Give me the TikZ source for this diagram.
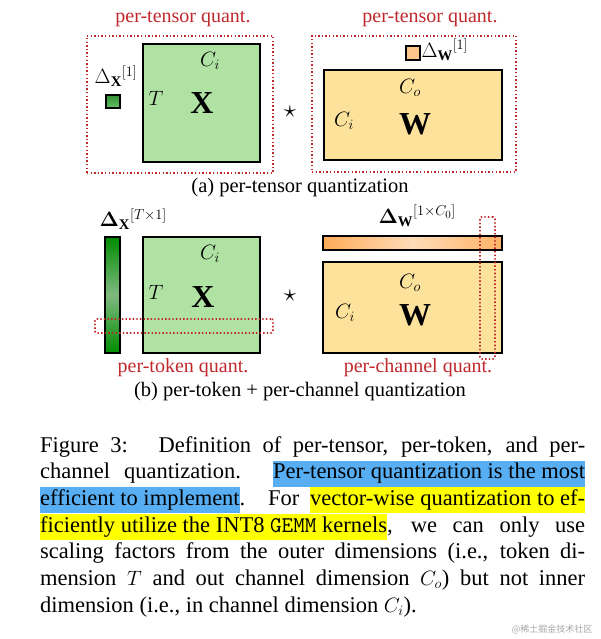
\documentclass[tikz,border=0pt]{standalone}
\usepackage{fontspec}
\setmainfont{Liberation Serif}
\newfontfamily\cjk{Noto Sans CJK SC}
\usepackage{amsmath}
\begin{document}
\definecolor{qred}{HTML}{C0282C}
\definecolor{xgreen}{HTML}{B0E2A4}
\definecolor{wyel}{HTML}{FDE29C}
\definecolor{hblue}{HTML}{58AEF2}
\definecolor{hyel}{HTML}{FFFF00}
\begin{tikzpicture}[x=1pt,y=-1pt,
  mat/.style={draw=black,line width=1.6pt,anchor=north west,inner sep=0pt,outer sep=0pt},
  qbox/.style={draw=qred,line width=1.8pt,dash pattern=on 1.4pt off 2.2pt,anchor=north west,inner sep=0pt},
  lab/.style={font=\fontsize{21}{23}\selectfont},
  qlab/.style={font=\fontsize{20}{22}\selectfont,text=qred},
  big/.style={font=\fontsize{32}{34}\selectfont\bfseries},
  subcap/.style={font=\fontsize{20.5}{22}\selectfont},
  txtline/.style={anchor=west,inner sep=0pt,font=\fontsize{22.5}{26}\selectfont}]
\useasboundingbox (0,0) rectangle (600,639);
\setlength{\fboxsep}{0pt}
% ---- (a)
\node[qbox,minimum width=186,minimum height=137] (qa1) at (86,35) {};
\node[qlab] (qla1) at (183,19) {per-tensor quant.};
\node[mat,fill=xgreen,minimum width=117,minimum height=118] (Xa) at (143,44) {};
\node[lab] (cia) at (210,61) {$C_i$};
\node[lab] (ta) at (156,98) {$T$};
\node[big] (xa) at (202,103) {X};
\node[mat,line width=1.3pt,top color=green!45!black!80,bottom color=green!60!black!60,minimum width=14,minimum height=13] (dxa) at (106,95) {};
\node[lab] (dxla) at (116,76) {$\Delta_{\mathbf{X}}{}^{[1]}$};
\node[font=\fontsize{30}{30}\selectfont] (sa) at (290,112) {$\star$};
\node[qbox,minimum width=204,minimum height=136] (qa2) at (311,35) {};
\node[qlab] (qla2) at (430,19) {per-tensor quant.};
\node[mat,fill=wyel,minimum width=178,minimum height=90] (Wa) at (324,70) {};
\node[lab] (coa) at (410,88) {$C_o$};
\node[lab] (cia2) at (344,121) {$C_i$};
\node[big] (wa) at (415,124) {W};
\node[mat,line width=1.3pt,fill=orange!45,minimum width=14,minimum height=14] (dwa) at (406,46) {};
\node[lab,anchor=west] (dwla) at (418,50) {$\Delta_{\mathbf{W}}{}^{[1]}$};
\node[subcap] (capa) at (300,188) {(a) per-tensor quantization};
% ---- (b)
\node[mat,line width=1.3pt,top color=green!55!black,bottom color=green!55!black,middle color=green!45!black!50,minimum width=15,minimum height=116] (dxb) at (105,237) {};
\node[lab,anchor=west] (dxlb) at (96,219) {$\boldsymbol{\Delta}_{\mathbf{X}}{}^{[T\times1]}$};
\node[mat,fill=xgreen,minimum width=117,minimum height=116] (Xb) at (143,237) {};
\node[lab] (cib) at (210,254) {$C_i$};
\node[lab] (tb) at (156,292) {$T$};
\node[big] (xb) at (203,297) {X};
\node[qbox,rounded corners=2pt,minimum width=178,minimum height=14] (qrow) at (94,318) {};
\node[font=\fontsize{30}{30}\selectfont] (sb) at (290,296) {$\star$};
\node[mat,line width=1.3pt,left color=orange!65,right color=orange!60,middle color=orange!28,minimum width=179,minimum height=14] (dwb) at (323,236) {};
\node[lab,anchor=west] (dwlb) at (375,216) {$\boldsymbol{\Delta}_{\mathbf{W}}{}^{[1\times C_0]}$};
\node[mat,fill=wyel,minimum width=179,minimum height=91] (Wb) at (323,262) {};
\node[lab] (cob) at (410,283) {$C_o$};
\node[lab] (cib2) at (345,313) {$C_i$};
\node[big] (wb) at (415,315) {W};
\node[qbox,rounded corners=2pt,minimum width=15,minimum height=142] (qcol) at (479,216) {};
\node[qlab] (qlb1) at (183,368) {per-token quant.};
\node[qlab] (qlb2) at (418,368) {per-channel quant.};
\node[subcap] (capb) at (300,392) {(b) per-token + per-channel quantization};
% ---- caption text
\node[txtline] (l1) at (40,447) {\makebox[545pt][s]{Figure 3: \ Definition of per-tensor, per-token, and per-}};
\node[txtline] (l2) at (40,473.6) {\makebox[545pt][s]{channel quantization. \colorbox{hblue}{\strut Per-tensor quantization is the most}}};
\node[txtline] (l3) at (40,500.2) {\makebox[545pt][s]{\colorbox{hblue}{\strut efficient to implement}. For \colorbox{hyel}{\strut vector-wise quantization to ef-}}};
\node[txtline] (l4) at (40,526.8) {\makebox[545pt][s]{\colorbox{hyel}{\strut ficiently utilize the INT8 \texttt{GEMM} kernels}, we can only use}};
\node[txtline] (l5) at (40,553.4) {\makebox[545pt][s]{scaling factors from the outer dimensions (i.e., token di-}};
\node[txtline] (l6) at (40,580) {\makebox[545pt][s]{mension $T$ and out channel dimension $C_o$) but not inner}};
\node[txtline] (l7) at (40,606.6) {dimension (i.e., in channel dimension $C_i$).};
\node[anchor=east,text=black!35,font=\cjk\fontsize{9}{10}\selectfont] (wm) at (596,629) {@稀土掘金技术社区};
\end{tikzpicture}
\end{document}
